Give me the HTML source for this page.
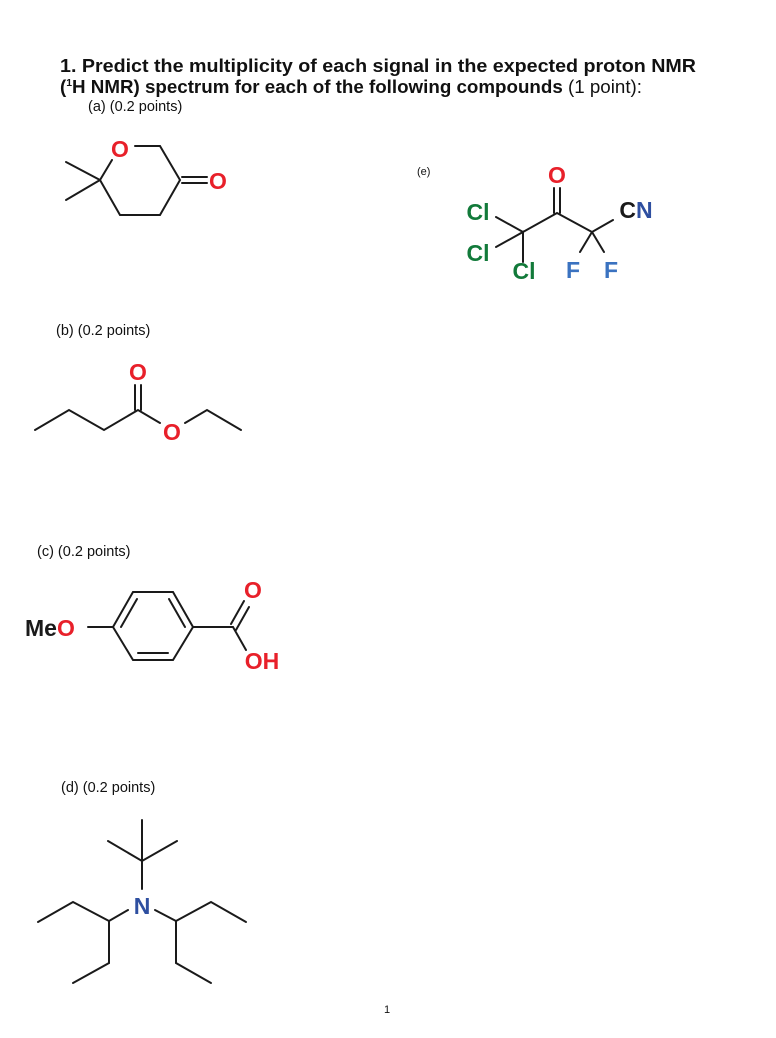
<!DOCTYPE html>
<html><head><meta charset="utf-8"><style>
html,body{margin:0;padding:0;background:#fff;}
svg{display:block;}
text{font-family:"Liberation Sans",Arial,sans-serif;}
</style></head><body>
<svg width="776" height="1038" viewBox="0 0 776 1038" xmlns="http://www.w3.org/2000/svg">
<g fill="#111">
<text x="60" y="72" font-size="18" font-weight="bold" textLength="636" lengthAdjust="spacingAndGlyphs">1. Predict the multiplicity of each signal in the expected proton NMR</text>
<text x="60" y="93" font-size="18" textLength="582" lengthAdjust="spacingAndGlyphs"><tspan font-weight="bold">(</tspan><tspan font-size="10" dy="-7" font-weight="bold">1</tspan><tspan dy="7" font-weight="bold">H NMR) spectrum for each of the following compounds</tspan> (1 point):</text>
<text x="88" y="111" font-size="14.5">(a) (0.2 points)</text>
<text x="56" y="335" font-size="14.5">(b) (0.2 points)</text>
<text x="37" y="556" font-size="14.5">(c) (0.2 points)</text>
<text x="61" y="792" font-size="14.5">(d) (0.2 points)</text>
<text x="417" y="175" font-size="11">(e)</text>
<text x="384" y="1013" font-size="11">1</text>
</g>
<g stroke="#1a1a1a" stroke-width="2" fill="none" stroke-linecap="round">
<!-- a -->
<path d="M135,146 L160,146 L180,180 L160,215 L120,215 L100,180 L112,160"/>
<path d="M100,180 L66,162 M100,180 L66,200"/>
<path d="M182,177 L207,177 M182,183 L207,183"/>
<!-- b -->
<path d="M35,430 L69,410 L104,430 L138,410 L160,423 M185,423 L207,410 L241,430"/>
<path d="M135,410 L135,385 M141,410 L141,385"/>
<!-- c -->
<path d="M88,627 L113,627"/>
<path d="M113,627 L133,592 L173,592 L193,627 L173,660 L133,660 Z"/>
<path d="M121,627 L137,599 M169,599 L185,627 M138,653 L168,653"/>
<path d="M193,627 L233,627 L246,650 M231,624 L244,601 M236,630 L249,607"/>
<!-- d -->
<path d="M142,820 L142,889 M108,841 L142,861 L177,841"/>
<path d="M128,910 L109,921 L73,902 L38,922 M109,921 L109,963 L73,983"/>
<path d="M155,910 L176,921 L211,902 L246,922 M176,921 L176,963 L211,983"/>
<!-- e -->
<path d="M496,217 L523,232 L557,213 L592,232 L613,220"/>
<path d="M496,247 L523,232 L523,262 M592,232 L580,252 M592,232 L604,252"/>
<path d="M554,213 L554,188 M560,213 L560,188"/>
</g>
<g font-weight="bold" font-size="23">
<text x="120" y="157" fill="#e8202a" text-anchor="middle">O</text>
<text x="218" y="189" fill="#e8202a" text-anchor="middle">O</text>
<text x="138" y="380" fill="#e8202a" text-anchor="middle">O</text>
<text x="172" y="440" fill="#e8202a" text-anchor="middle">O</text>
<text x="25" y="636" fill="#1a1a1a">Me<tspan fill="#e8202a">O</tspan></text>
<text x="253" y="598" fill="#e8202a" text-anchor="middle">O</text>
<text x="262" y="669" fill="#e8202a" text-anchor="middle">OH</text>
<text x="142" y="914" fill="#2e4fa0" text-anchor="middle">N</text>
<text x="557" y="183" fill="#e8202a" text-anchor="middle">O</text>
<text x="636" y="218" fill="#1a1a1a" text-anchor="middle">C<tspan fill="#2e4fa0">N</tspan></text>
<text x="478" y="220" fill="#127a3a" text-anchor="middle">Cl</text>
<text x="478" y="261" fill="#127a3a" text-anchor="middle">Cl</text>
<text x="524" y="279" fill="#127a3a" text-anchor="middle">Cl</text>
<text x="573" y="278" fill="#3a72c0" text-anchor="middle">F</text>
<text x="611" y="278" fill="#3a72c0" text-anchor="middle">F</text>
</g>
</svg>
</body></html>
